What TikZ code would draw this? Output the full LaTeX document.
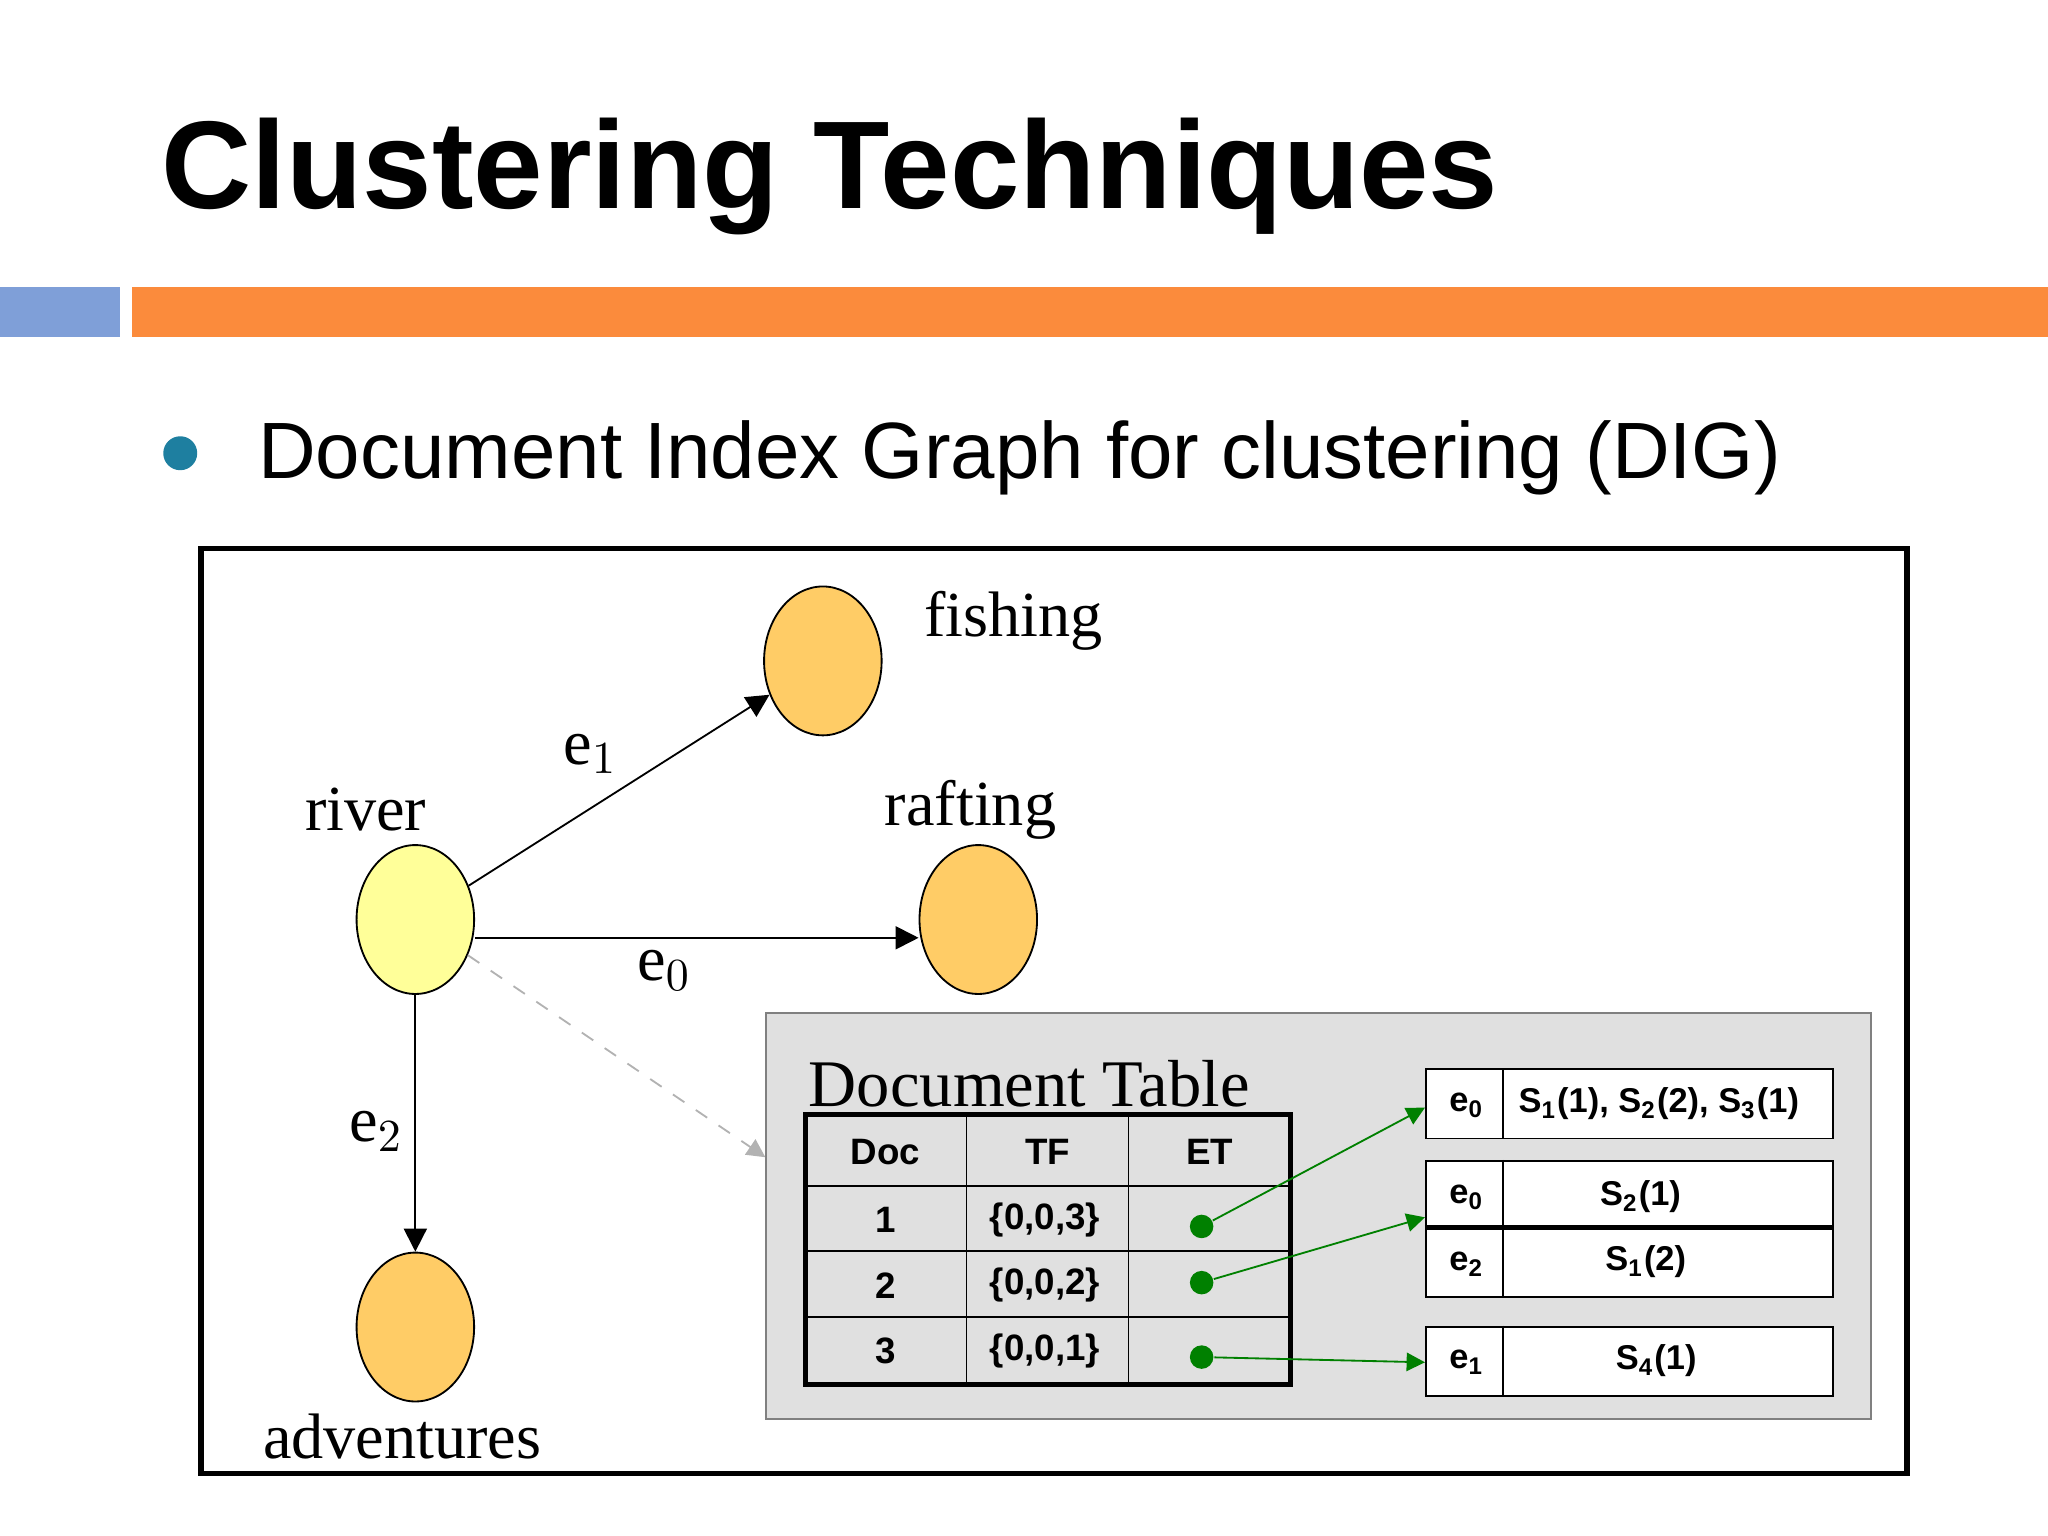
\documentclass[tikz,border=0pt]{standalone}
\usepackage{fontspec}
\setmainfont{Liberation Serif}
\newfontfamily\sans{Liberation Sans}
\usetikzlibrary{shapes.geometric,arrows.meta}
\definecolor{barblue}{HTML}{7F9FD8}
\definecolor{barorange}{HTML}{FB8B3C}
\definecolor{bullet}{HTML}{1E7FA0}
\definecolor{term}{HTML}{FFCC66}
\definecolor{root}{HTML}{FFFF99}
\definecolor{panel}{HTML}{E0E0E0}
\definecolor{dotgreen}{HTML}{008000}
\begin{document}
\begin{tikzpicture}[x=0.1mm,y=-0.1mm,
  word/.style={ellipse,draw,thin,minimum width=9mm,minimum height=11.4mm,inner sep=0pt},
  lbl/.style={font=\fontsize{14}{16}\selectfont},
  cell/.style={font=\sans\bfseries\fontsize{8}{10}\selectfont,inner sep=0pt},
  small/.style={font=\sans\bfseries\fontsize{7.5}{9}\selectfont,inner sep=0pt},
  dot/.style={circle,fill=dotgreen,minimum size=1.8mm,inner sep=0pt},
  entry/.style={draw,fill=white,minimum width=31.2mm,anchor=north west,inner sep=0pt}]
  \tikzstyle{trans}=[-{Triangle[length=5pt,width=5pt]}]
  \tikzstyle{link}=[dotgreen,-{Triangle[length=4pt,width=4pt]}]

\useasboundingbox (0,0) rectangle (1568,1176);

% title and bars
\node[anchor=base west,inner sep=0pt,font=\sans\bfseries\fontsize{27.2}{30}\selectfont] (title) at (123,160) {Clustering Techniques};
\fill[barblue] (0,220) rectangle (92,258);
\fill[barorange] (101,220) rectangle (1568,258);
\node[circle,fill=bullet,minimum size=2.6mm,inner sep=0pt] (bul) at (138,347) {};
\node[anchor=base west,inner sep=0pt,font=\sans\fontsize{17.4}{20}\selectfont] (head) at (197,366) {Document Index Graph for clustering (DIG)};

% frame
\draw[line width=1.2pt] (154,420) rectangle (1460,1128);

% graph
\node[word,fill=root] (river) at (318,704) {};
\node[word,fill=term] (fishing) at (630,506) {};
\node[word,fill=term] (rafting) at (749,704) {};
\node[word,fill=term] (adv) at (318,1016) {};
\node[lbl] (tfish) at (776,475) {fishing};
\node[lbl] (triver) at (280,620) {river};
\node[lbl] (traft) at (743,620) {rafting};
\node[lbl] (tadv) at (308,1100) {adventures};

\draw[trans] (river) -- (fishing) node[lbl,midway,above,xshift=-2.2mm] {e$_1$};
\draw[trans] (river.east |- 0,718) -- (rafting.west |- 0,718) node[lbl,midway,below,xshift=-2.5mm,yshift=0.3mm] {e$_0$};
\draw[trans] (river) -- (adv) node[lbl,midway,left,xshift=0.3mm,yshift=-0.6mm] {e$_2$};

% document table
\node[draw=gray,fill=panel,minimum width=84.6mm,minimum height=31.1mm,anchor=north west,inner sep=0pt] (panelbox) at (586,775) {};
\draw[gray!60,dashed,-{Triangle[length=4pt,width=4pt]}] (river) -- (panelbox.west |- 0,886);
\node[lbl,font=\fontsize{14.5}{16}\selectfont] (dtab) at (788,830) {Document Table};
\draw[line width=1.1pt] (617,853) rectangle (988,1060);
\draw (740,853) -- (740,1060) (864,853) -- (864,1060);
\draw (617,908) -- (988,908) (617,958) -- (988,958) (617,1008) -- (988,1008);
\node[cell] (hdoc) at (678,882) {Doc};
\node[cell] (htf) at (802,882) {TF};
\node[cell] (het) at (926,882) {ET};
\foreach \r/\y/\v in {1/934/3,2/984/2,3/1034/1}{
  \node[cell] (doc\r) at (678,\y) {\r};
  \node[cell] (tf\r) at (800,\y) {\{0,0,\v\}};
}
\node[dot] (d1) at (920,939) {};
\node[dot] (d2) at (920,982) {};
\node[dot] (d3) at (920,1039) {};

% edge lists
\node[entry,minimum height=5.3mm] (b1) at (1091,818) {};
\node[entry,minimum height=10.4mm] (b2) at (1091,888) {};
\node[entry,minimum height=5.3mm] (b3) at (1091,1015) {};
\draw (1151,818) -- (1151,871) (1151,888) -- (1151,992) (1151,1015) -- (1151,1068);
\draw[line width=1pt] (1091,940) -- (1403,940);
\node[small] (k1) at (1123,846) {e\textsubscript{0}};
\node[small] (v1) at (1270,845) {S\textsubscript{1}(1), S\textsubscript{2}(2), S\textsubscript{3}(1)};
\node[small] (k2) at (1123,917) {e\textsubscript{0}};
\node[small] (v2) at (1256,916) {S\textsubscript{2}(1)};
\node[small] (k3) at (1123,968) {e\textsubscript{2}};
\node[small] (v3) at (1260,966) {S\textsubscript{1}(2)};
\node[small] (k4) at (1123,1043) {e\textsubscript{1}};
\node[small] (v4) at (1268,1042) {S\textsubscript{4}(1)};

\draw[link] (d1) -- (b1.west |- 0,848);
\draw[link] (d2) -- (b2.west |- 0,932);
\draw[link] (d3) -- (b3.west |- 0,1043);
\end{tikzpicture}
\end{document}
